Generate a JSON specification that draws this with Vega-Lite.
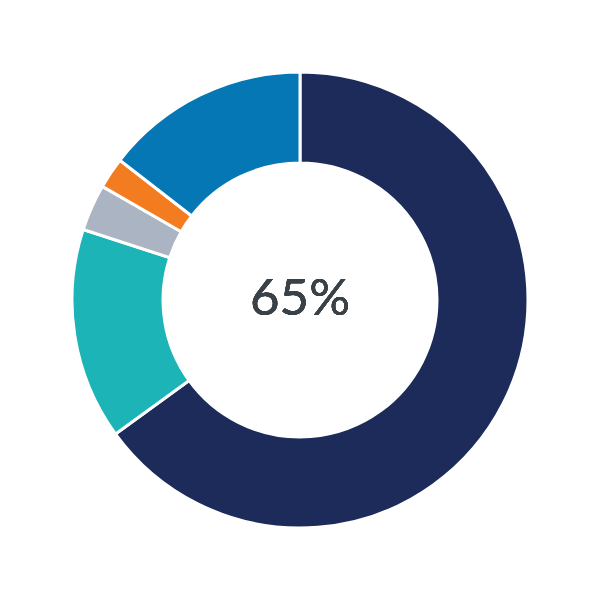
{
  "$schema": "https://vega.github.io/schema/vega-lite/v6.json",
  "autosize": {"type": "fit", "contains": "padding"},
  "width": 600,
  "height": 600,
  "padding": 0,
  "background": "white",
  "config": {"view": {"stroke": null}},
  "data": {
    "values": [
      {"segment": "A", "value": 65, "rank": 1},
      {"segment": "B", "value": 15, "rank": 2},
      {"segment": "C", "value": 3.3, "rank": 3},
      {"segment": "D", "value": 2.2, "rank": 4},
      {"segment": "E", "value": 14.5, "rank": 5}
    ]
  },
  "layer": [
    {
      "mark": {"type": "arc", "outerRadius": 228, "innerRadius": 137, "stroke": "white", "strokeWidth": 3},
      "encoding": {
        "theta": {"field": "value", "type": "quantitative", "stack": true},
        "order": {"field": "rank", "type": "quantitative"},
        "color": {
          "field": "segment",
          "type": "nominal",
          "legend": null,
          "scale": {
            "domain": ["A", "B", "C", "D", "E"],
            "range": ["#1c2b5a", "#1cb4b6", "#abb4c2", "#f47c20", "#0577b5"]
          }
        }
      }
    },
    {
      "mark": {"type": "text", "text": "65%", "font": "Lato", "fontWeight": 400, "fontSize": 51, "color": "#3a4248", "align": "center", "baseline": "middle"},
      "encoding": {}
    }
  ]
}
